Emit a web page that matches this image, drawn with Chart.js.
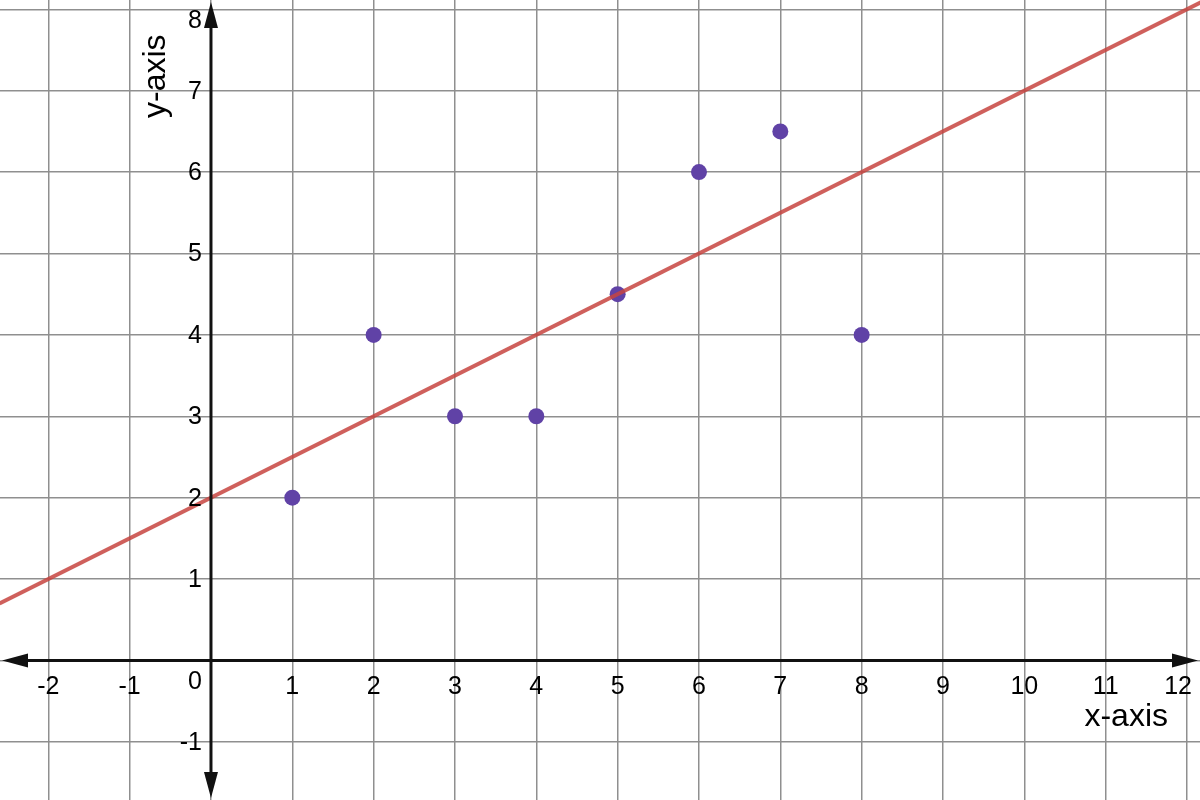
<!DOCTYPE html>
<html>
<head>
<meta charset="utf-8">
<title>Scatter with line of fit</title>
<script src="https://cdn.jsdelivr.net/npm/chart.js@4.4.1/dist/chart.umd.min.js"></script>
<style>
    html, body { margin: 0; padding: 0; background: #ffffff; }
    canvas { display: block; }
</style>
</head>
<body>
<canvas id="graph" width="1200" height="800"></canvas>
<script>
// Data
const pointX = [1, 2, 3, 4, 5, 6, 7, 8];
const pointY = [2, 4, 3, 3, 4.5, 6, 6.5, 4];

// Line of fit, end points at the edges of the view
const lineX = [-2.6, 12.2];
const lineY = [0.7, 8.1];

// Tick labels
const xTicks = [-2, -1, 1, 2, 3, 4, 5, 6, 7, 8, 9, 10, 11, 12];
const yTicks = [-1, 1, 2, 3, 4, 5, 6, 7, 8];

// Visible window
const xRange = [-2.594, 12.16];
const yRange = [-1.714, 8.114];

const FONT = '"Liberation Sans", Arial, sans-serif';

/**
 * Draws the axes with arrow heads, the tick labels and the axis titles
 */
const axesPlugin = {
    id: 'axesPlugin',
    afterDraw(chart) {
        const ctx = chart.ctx;
        const xs = chart.scales.x;
        const ys = chart.scales.y;
        const area = chart.chartArea;
        const x0 = xs.getPixelForValue(0);
        const y0 = ys.getPixelForValue(0);

        ctx.save();
        ctx.strokeStyle = '#111';
        ctx.fillStyle = '#111';
        ctx.lineWidth = 3;

        // x axis
        ctx.beginPath();
        ctx.moveTo(area.left + 10, y0);
        ctx.lineTo(area.right - 10, y0);
        ctx.stroke();
        // y axis
        ctx.beginPath();
        ctx.moveTo(x0, area.top + 10);
        ctx.lineTo(x0, area.bottom - 10);
        ctx.stroke();

        const arrow = (tx, ty, dx, dy) => {
            // tip at (tx, ty), pointing in direction (dx, dy)
            const len = 26, half = 7;
            const bx = tx - dx * len, by = ty - dy * len;
            ctx.beginPath();
            ctx.moveTo(tx, ty);
            ctx.lineTo(bx - dy * half, by + dx * half);
            ctx.lineTo(bx + dy * half, by - dx * half);
            ctx.closePath();
            ctx.fill();
        };
        arrow(area.left + 2, y0, -1, 0);
        arrow(area.right - 2, y0, 1, 0);
        arrow(x0, area.top + 2, 0, -1);
        arrow(x0, area.bottom - 2, 0, 1);

        // tick labels, kept inside the view like the original
        ctx.fillStyle = '#000';
        ctx.font = '25px ' + FONT;
        ctx.textAlign = 'center';
        ctx.textBaseline = 'alphabetic';
        xTicks.forEach(v => {
            const label = String(v);
            const half = ctx.measureText(label).width / 2;
            const px = Math.min(xs.getPixelForValue(v), area.right - 8 - half);
            ctx.fillText(label, px, y0 + 34);
        });
        ctx.textAlign = 'right';
        ctx.textBaseline = 'middle';
        yTicks.forEach(v => {
            const py = Math.max(ys.getPixelForValue(v), area.top + 20);
            ctx.fillText(String(v), x0 - 9, py + 1);
        });
        ctx.textAlign = 'center';
        ctx.fillText('0', x0 - 16, y0 + 22);

        // axis titles
        ctx.font = '32px ' + FONT;
        ctx.textAlign = 'right';
        ctx.textBaseline = 'alphabetic';
        ctx.fillText('x-axis', area.right - 32, y0 + 66);

        ctx.translate(x0 - 46, 118);
        ctx.rotate(-Math.PI / 2);
        ctx.textAlign = 'left';
        ctx.fillText('y-axis', 0, 0);
        ctx.restore();
    }
};

const ctx = document.getElementById('graph').getContext('2d');

new Chart(ctx, {
    type: 'scatter',
    data: {
        datasets: [
            {
                type: 'line',
                label: 'Line of fit',
                data: lineX.map((x, i) => ({ x: x, y: lineY[i] })),
                borderColor: 'rgba(199, 68, 64, 0.85)',
                borderWidth: 4,
                pointRadius: 0,
                fill: false,
                tension: 0,
                order: 0
            },
            {
                label: 'Points',
                data: pointX.map((x, i) => ({ x: x, y: pointY[i] })),
                backgroundColor: '#6042a6',
                borderColor: '#6042a6',
                borderWidth: 0,
                pointRadius: 8,
                order: 1
            }
        ]
    },
    options: {
        responsive: false,
        animation: false,
        layout: { padding: 0, autoPadding: false },
        plugins: {
            legend: { display: false },
            tooltip: { enabled: false }
        },
        scales: {
            x: {
                type: 'linear',
                min: xRange[0],
                max: xRange[1],
                ticks: { display: false, stepSize: 1, includeBounds: false },
                grid: { color: '#8f8f8f', lineWidth: 1.5, drawTicks: false },
                border: { display: false }
            },
            y: {
                type: 'linear',
                min: yRange[0],
                max: yRange[1],
                ticks: { display: false, stepSize: 1, includeBounds: false },
                grid: { color: '#8f8f8f', lineWidth: 1.5, drawTicks: false },
                border: { display: false }
            }
        }
    },
    plugins: [axesPlugin]
});
</script>
</body>
</html>
